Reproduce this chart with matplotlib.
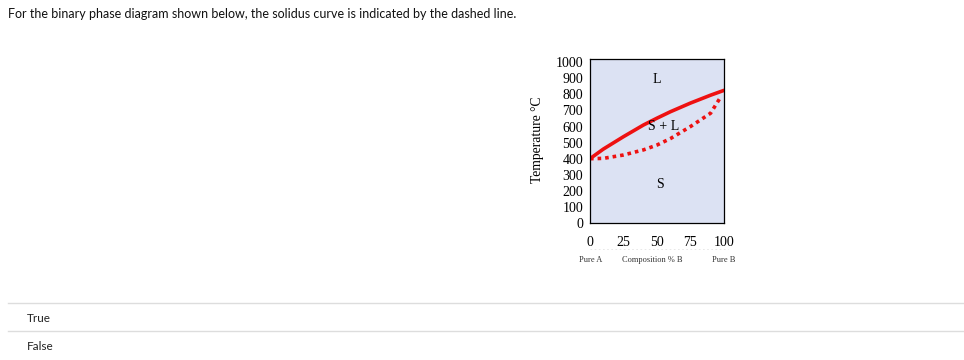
import numpy as np
import matplotlib
matplotlib.use("Agg")
from matplotlib import pyplot as plt

# liquidus (solid) and solidus (dotted)
comp = [0, 10, 25, 40, 50, 60, 75, 90, 100]
liquidus = [400, 460, 537, 610, 652, 692, 746, 795, 825]
solidus_comp = [0, 10, 25, 40, 50, 60, 75, 90, 98]
solidus = [400, 402, 423, 455, 485, 525, 600, 683, 790]

yticks = [0, 100, 200, 300, 400, 500, 600, 700, 800, 900, 1000]
xticks = [0, 25, 50, 75, 100]

question = "For the binary phase diagram shown below, the solidus curve is indicated by the dashed line."
choices = ["True", "False"]

W, H = 964, 360
fig = plt.figure(figsize=(W / 100, H / 100), dpi=100)

# question text
fig.text(8 / W, 1 - 14 / H, question, family="Lato", fontsize=9.0, va="center", ha="left", color="#111111")

# chart axes (pixel box -> figure fraction)
left, right, top, bottom = 590, 724, 59, 223
ax = fig.add_axes([left / W, 1 - bottom / H, (right - left) / W, (bottom - top) / H])
ax.set_facecolor("#dce2f3")
ax.plot(comp, liquidus, color="#ee1111", lw=2.6, solid_capstyle="round")
ax.plot(solidus_comp, solidus, color="#ee1111", lw=2.6, ls=(0, (1, 1.1)))
ax.set_xlim(0, 100)
ax.set_ylim(0, 1020)
ax.set_xticks(xticks)
ax.set_yticks(yticks)
ax.tick_params(length=0, labelsize=10, pad=5)
ax.tick_params(axis="x", pad=9)
for lab in ax.get_xticklabels() + ax.get_yticklabels():
    lab.set_family("Liberation Serif")
for s in ax.spines.values():
    s.set_linewidth(0.9)

ax.text(50, 890, "L", family="Liberation Serif", fontsize=10, ha="center", va="center")
ax.text(55, 598, "S + L", family="Liberation Serif", fontsize=10, ha="center", va="center")
ax.text(52, 242, "S", family="Liberation Serif", fontsize=10, ha="center", va="center")

fig.text(537 / W, 1 - 140 / H, "Temperature \u00b0C", family="Liberation Serif", fontsize=9.8,
         rotation=90, ha="center", va="center")

# composition captions under the axis
cap = dict(family="Liberation Serif", fontsize=6, ha="center", va="center", color="#333333")
fig.text(591 / W, 1 - 260 / H, "Pure A", **cap)
fig.text(652 / W, 1 - 260 / H, "Composition % B", **cap)
fig.text(724 / W, 1 - 260 / H, "Pure B", **cap)
fig.add_artist(plt.Line2D([590 / W, 728 / W], [1 - 249 / H] * 2, color="#e4e4e4", lw=0.6, ls=(0, (2, 3))))

# answer choices with separators
for yline in (303, 331):
    fig.add_artist(plt.Line2D([8 / W, 1.0], [1 - yline / H] * 2, color="#dddddd", lw=1))
for name, yc in zip(choices, (318, 346)):
    fig.text(27 / W, 1 - yc / H, name, family="Lato", fontsize=8.5, va="center", ha="left", color="#222222")

fig.savefig("out.png", dpi=100)
